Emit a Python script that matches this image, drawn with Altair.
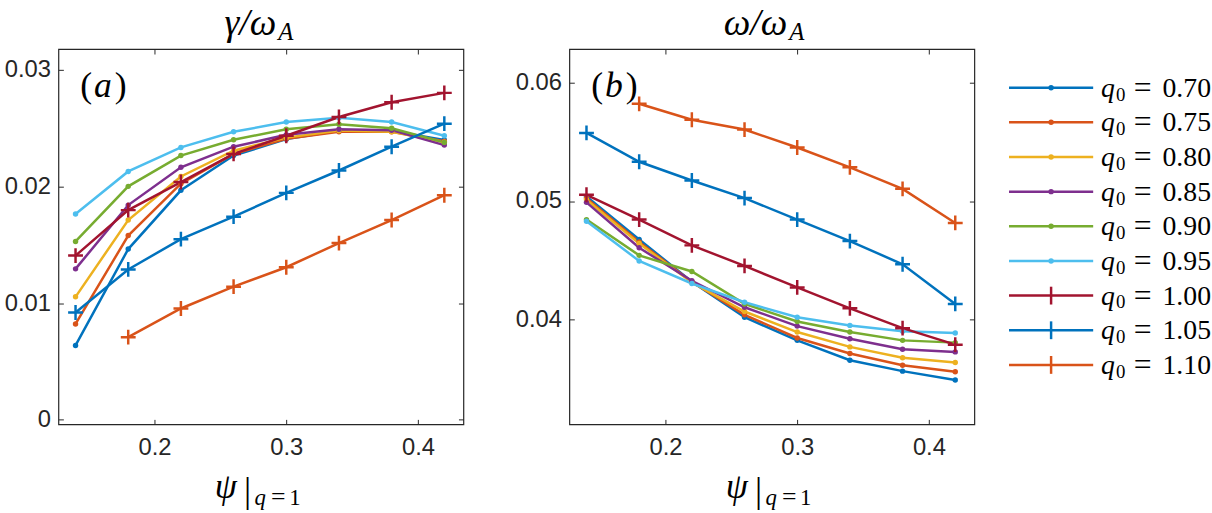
import altair as alt
import pandas as pd

# ---------------- data ----------------
psi = [0.14, 0.18, 0.22, 0.26, 0.30, 0.34, 0.38, 0.42]
q0_labels = ["0.70", "0.75", "0.80", "0.85", "0.90", "0.95", "1.00", "1.05", "1.10"]
colors = ["#0072BD", "#D95319", "#EDB120", "#7E2F8E", "#77AC30", "#4DBEEE",
          "#A2142F", "#0072BD", "#D95319"]
marker_kind = ["dot", "dot", "dot", "dot", "dot", "dot", "plus", "plus", "plus"]

# growth rate gamma/omega_A
gamma_070 = [0.00637, 0.01464, 0.01968, 0.02266, 0.02407, 0.02478, 0.02478, 0.02400]
gamma_075 = [0.00821, 0.01580, 0.02025, 0.02280, 0.02410, 0.02470, 0.02470, 0.02390]
gamma_080 = [0.01054, 0.01713, 0.02087, 0.02308, 0.02420, 0.02480, 0.02470, 0.02380]
gamma_085 = [0.01294, 0.01841, 0.02166, 0.02342, 0.02444, 0.02492, 0.02484, 0.02356]
gamma_090 = [0.01529, 0.02002, 0.02266, 0.02402, 0.02492, 0.02535, 0.02501, 0.02379]
gamma_095 = [0.01764, 0.02130, 0.02336, 0.02470, 0.02554, 0.02591, 0.02554, 0.02436]
gamma_100 = [0.01408, 0.01798, 0.02039, 0.02280, 0.02436, 0.02597, 0.02724, 0.02804]
gamma_105 = [0.00920, 0.01289, 0.01549, 0.01742, 0.01946, 0.02138, 0.02342, 0.02540]
gamma_110 = [None, 0.00708, 0.00954, 0.01141, 0.01308, 0.01515, 0.01713, 0.01926]

# real frequency omega/omega_A
omega_070 = [0.05039, 0.04677, 0.04320, 0.04022, 0.03827, 0.03660, 0.03568, 0.03493]
omega_075 = [0.05025, 0.04655, 0.04320, 0.04042, 0.03847, 0.03716, 0.03618, 0.03563]
omega_080 = [0.05011, 0.04643, 0.04315, 0.04070, 0.03897, 0.03772, 0.03680, 0.03641]
omega_085 = [0.04989, 0.04607, 0.04329, 0.04106, 0.03947, 0.03841, 0.03752, 0.03730]
omega_090 = [0.04844, 0.04543, 0.04407, 0.04134, 0.03986, 0.03897, 0.03827, 0.03808]
omega_095 = [0.04830, 0.04496, 0.04306, 0.04148, 0.04022, 0.03953, 0.03903, 0.03889]
omega_100 = [0.05053, 0.04844, 0.04627, 0.04454, 0.04273, 0.04097, 0.03930, 0.03791]
omega_105 = [0.05574, 0.05331, 0.05173, 0.05025, 0.04844, 0.04663, 0.04468, 0.04134]
omega_110 = [None, 0.05819, 0.05685, 0.05602, 0.05451, 0.05284, 0.05103, 0.04816]

gamma_all = [gamma_070, gamma_075, gamma_080, gamma_085, gamma_090, gamma_095,
             gamma_100, gamma_105, gamma_110]
omega_all = [omega_070, omega_075, omega_080, omega_085, omega_090, omega_095,
             omega_100, omega_105, omega_110]

x_ticks = [0.2, 0.3, 0.4]
ya_ticks = [0, 0.01, 0.02, 0.03]
yb_ticks = [0.04, 0.05, 0.06]


def build(series):
    rows = []
    for lab, kind, vals in zip(q0_labels, marker_kind, series):
        for x, v in zip(psi, vals):
            if v is not None:
                rows.append({"q0": lab, "kind": kind, "psi": x, "val": v})
    return pd.DataFrame(rows)


df_a = build(gamma_all)
df_b = build(omega_all)

# ---------------- styling ----------------
AX = "#262626"
TICKFONT = "Liberation Sans"
MATH = "Liberation Serif"
W, H = 409, 379
XDOM = [0.127, 0.4345]
PLUS = "M-1,0H1M0,-1V1"

color_enc = alt.Color("q0:N", scale=alt.Scale(domain=q0_labels, range=colors), legend=None)
one = pd.DataFrame({"k": [0]})


def txt(s, x, y, size, italic=False, align="left"):
    kw = dict(text=s, font=MATH, fontSize=size, align=align, baseline="alphabetic",
              color="black")
    if italic:
        kw["fontStyle"] = "italic"
    return alt.Chart(one).mark_text(**kw).encode(x=alt.value(x), y=alt.value(y))


def ax(orient, vals, labels, pad=0):
    d = dict(orient=orient, values=vals, offset=-5, tickSize=5, domain=False,
             grid=False, tickColor=AX, tickWidth=1, title=None, labels=labels,
             minExtent=0)
    if labels:
        d.update(format="~g", labelFont=TICKFONT, labelFontSize=24,
                 labelColor=AX, labelPadding=pad)
    if orient == "left":
        d.update(minExtent=55, maxExtent=55)
    return alt.Axis(**d)


def panel(df, ydom, yticks, main_sym, tag_letter):
    xs = alt.Scale(domain=XDOM, nice=False, zero=False)
    ys = alt.Scale(domain=ydom, nice=False, zero=False)

    lines = alt.Chart(df).mark_line(strokeWidth=2.5).encode(
        x=alt.X("psi:Q", scale=xs, axis=ax("bottom", x_ticks, True, 11)),
        y=alt.Y("val:Q", scale=ys, axis=ax("left", yticks, True, 8)),
        color=color_enc,
    )
    dots = alt.Chart(df).transform_filter("datum.kind == 'dot'").mark_point(
        shape="circle", filled=True, size=30, opacity=1).encode(
        x=alt.X("psi:Q", scale=xs, axis=ax("top", x_ticks, False)),
        y=alt.Y("val:Q", scale=ys, axis=ax("right", yticks, False)),
        color=color_enc,
    )
    plus = alt.Chart(df).transform_filter("datum.kind == 'plus'").mark_point(
        shape=PLUS, filled=False, size=225, strokeWidth=2.5, opacity=1).encode(
        x=alt.X("psi:Q", scale=xs, axis=None),
        y=alt.Y("val:Q", scale=ys, axis=None),
        color=color_enc,
    )
    deco = [
        # title  gamma/omega_A
        txt(main_sym, 220, -14, 38, italic=True, align="right"),
        txt("A", 222, -9, 25, italic=True),
        # x title  psi|_{q=1}
        txt("ψ", 158, H + 74, 36, italic=True),
        txt("|", 191, H + 78, 36, align="center"),
        txt("q", 198, H + 81, 23, italic=True),
        txt("=", 222, H + 81, 26, align="center"),
        txt("1", 233, H + 81, 23),
        # panel tag (a)/(b)
        txt("(", 22, 48, 36),
        txt(tag_letter, 36, 48, 36, italic=True),
        txt(")", 57, 48, 36),
    ]
    return alt.layer(lines, dots, plus, *deco).resolve_axis(
        x="independent", y="independent").properties(
        width=W, height=H, view=alt.ViewBackground(stroke=AX, strokeWidth=1.2))


pa = panel(df_a, [-0.0004, 0.0318], ya_ticks, "γ/ω", "a")
pb = panel(df_b, [0.0312, 0.0628], yb_ticks, "ω/ω", "b")

# ---------------- custom legend ----------------
leg_df = pd.DataFrame({"q0": q0_labels, "kind": marker_kind, "val": q0_labels})
ly = alt.Y("q0:N", scale=alt.Scale(type="point", padding=0, domain=q0_labels,
                                   range=[39, 319]), axis=None)
LX = 3
leg_rule = alt.Chart(leg_df).mark_rule(strokeWidth=2.5).encode(
    x=alt.value(28 + LX), x2=alt.value(113 + LX), y=ly, color=color_enc)
leg_dot = alt.Chart(leg_df).transform_filter("datum.kind == 'dot'").mark_point(
    shape="circle", filled=True, size=30, opacity=1).encode(
    x=alt.value(70.5 + LX), y=ly, color=color_enc)
leg_plus = alt.Chart(leg_df).transform_filter("datum.kind == 'plus'").mark_point(
    shape="M0,-1V1", filled=False, size=324, strokeWidth=2.5, opacity=1).encode(
    x=alt.value(70.5 + LX), y=ly, color=color_enc)
leg_q = alt.Chart(leg_df).mark_text(text="q", font=MATH, fontStyle="italic",
                                    fontSize=28, align="left", baseline="alphabetic",
                                    dy=9, color="black", clip=True).encode(
    x=alt.value(121 + LX), y=ly)
leg_0 = alt.Chart(leg_df).mark_text(text="0", font=MATH, fontSize=19, align="left",
                                    baseline="alphabetic", dy=13, color="black",
                                    clip=True).encode(
    x=alt.value(136 + LX), y=ly)
leg_eq = alt.Chart(leg_df).mark_text(text="=", font=MATH, fontSize=32, align="center",
                                     baseline="alphabetic", dy=10, color="black",
                                     clip=True).encode(
    x=alt.value(163 + LX), y=ly)
leg_val = alt.Chart(leg_df).mark_text(font=MATH, fontSize=28, align="left",
                                      baseline="alphabetic", dy=9, color="black",
                                      clip=True).encode(
    x=alt.value(183 + LX), y=ly, text="val:N")
legend = alt.layer(leg_rule, leg_dot, leg_plus, leg_q, leg_0, leg_eq, leg_val).properties(
    width=235, height=H, view=alt.ViewBackground(stroke="transparent"))

chart = alt.hconcat(alt.hconcat(pa, pb, spacing=49), legend, spacing=1).configure_view(
    stroke="transparent"
).properties(padding={"left": 3, "top": 2, "right": 0, "bottom": 0})

chart.save("out.html", embed_options={"renderer": "svg", "actions": False})
